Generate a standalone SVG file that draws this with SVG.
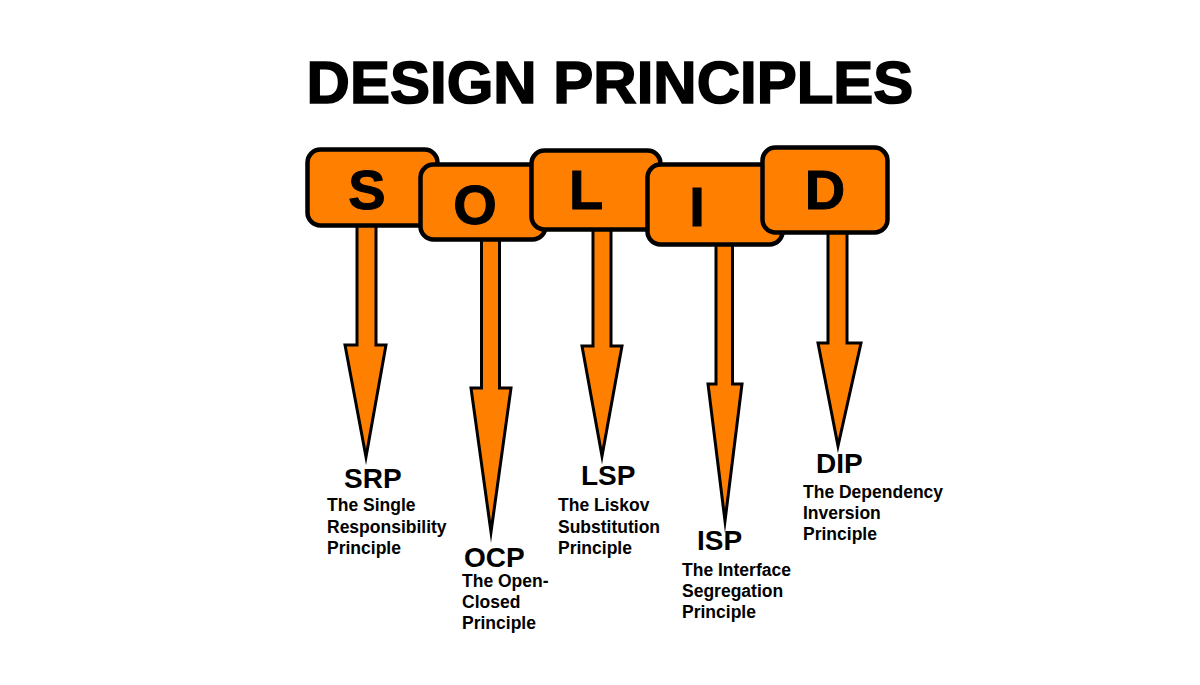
<svg xmlns="http://www.w3.org/2000/svg" width="1200" height="685" viewBox="0 0 1200 685">
<style>
.box{fill:#FF8000;stroke:#000;stroke-width:4.5}
.arrow{fill:#FF8000;stroke:#000;stroke-width:3;stroke-linejoin:miter;stroke-miterlimit:20}
.letter{font-family:"Liberation Sans",Arial,sans-serif;font-weight:bold;font-size:56px;fill:#000;stroke:#000;stroke-width:1;text-anchor:middle}
.title{font-family:"Liberation Sans",Arial,sans-serif;font-weight:bold;font-size:60px;fill:#000;stroke:#000;stroke-width:1.6;text-anchor:middle}
.abbr{font-family:"Liberation Sans",Arial,sans-serif;font-weight:bold;font-size:28px;fill:#000}
.desc{font-family:"Liberation Sans",Arial,sans-serif;font-weight:bold;font-size:17.5px;fill:#000}
</style>
<rect width="1200" height="685" fill="#fff"/>
<text class="title" x="610" y="103">DESIGN PRINCIPLES</text>
<g id="connectors">
<polygon class="arrow" points="357,222 376,222 376,345 386,345 366,457 345,345 357,345"/>
<polygon class="arrow" points="481.5,236 499.5,236 499.5,388 511,388 491,532 471,388 481.5,388"/>
<polygon class="arrow" points="593,226 611,226 611,346 622,346 602,456 582,346 593,346"/>
<polygon class="arrow" points="716,241 732.5,241 732.5,384 742,384 725,521 708,384 716,384"/>
<polygon class="arrow" points="828,229 847,229 847,343 861,343 838,446 818,343 828,343"/>
</g>
<g id="node-S">
<rect class="box" x="307.5" y="149.5" width="130" height="76" rx="13"/>
<text class="letter" x="367" y="209">S</text>
</g>
<g id="node-O">
<rect class="box" x="420.5" y="164.5" width="125" height="75" rx="13"/>
<text class="letter" x="475" y="224">O</text>
</g>
<g id="node-L">
<rect class="box" x="531.5" y="150.5" width="129" height="79" rx="13"/>
<text class="letter" x="586" y="209">L</text>
</g>
<g id="node-I">
<rect class="box" x="647.5" y="164.5" width="135" height="80" rx="13"/>
<text class="letter" x="697" y="226">I</text>
</g>
<g id="node-D">
<rect class="box" x="762.5" y="147.5" width="125" height="85" rx="13"/>
<text class="letter" x="825" y="209">D</text>
</g>
<g id="label-SRP">
<text class="abbr" x="344" y="488">SRP</text>
<text class="desc" x="327" y="511">The Single</text>
<text class="desc" x="327" y="533">Responsibility</text>
<text class="desc" x="327" y="554">Principle</text>
</g>
<g id="label-OCP">
<text class="abbr" x="464" y="567">OCP</text>
<text class="desc" x="462" y="587">The Open-</text>
<text class="desc" x="462" y="608">Closed</text>
<text class="desc" x="462" y="629">Principle</text>
</g>
<g id="label-LSP">
<text class="abbr" x="581" y="485">LSP</text>
<text class="desc" x="558" y="511">The Liskov</text>
<text class="desc" x="558" y="533">Substitution</text>
<text class="desc" x="558" y="554">Principle</text>
</g>
<g id="label-ISP">
<text class="abbr" x="697" y="550">ISP</text>
<text class="desc" x="682" y="576">The Interface</text>
<text class="desc" x="682" y="597">Segregation</text>
<text class="desc" x="682" y="618">Principle</text>
</g>
<g id="label-DIP">
<text class="abbr" x="816" y="473">DIP</text>
<text class="desc" x="803" y="498">The Dependency</text>
<text class="desc" x="803" y="519">Inversion</text>
<text class="desc" x="803" y="540">Principle</text>
</g>
</svg>
